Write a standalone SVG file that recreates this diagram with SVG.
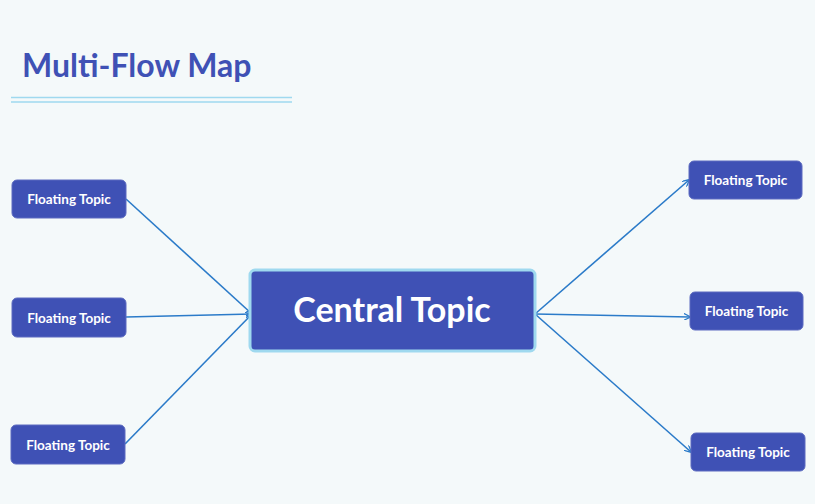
<svg xmlns="http://www.w3.org/2000/svg" width="815" height="504" viewBox="0 0 815 504">
<style>
.n{fill:#3f51b5;stroke:#5c6bc0;stroke-width:1}
.t{font-family:Lato,"Liberation Sans",sans-serif;font-weight:bold;fill:#fff;text-anchor:middle}
.c{stroke:#2b7bc9;stroke-width:1.6;fill:none;marker-end:url(#a)}
</style>
<defs><marker id="a" viewBox="0 0 10 10" refX="9" refY="5" markerWidth="7" markerHeight="7" orient="auto" markerUnits="userSpaceOnUse"><path d="M0,0 L10,5 L0,10" fill="none" stroke="#2b7bc9" stroke-width="1.8"/></marker></defs>
<rect width="815" height="504" fill="#f4f9fa"/>
<g id="title"><text x="22" y="77" font-family="Lato,'Liberation Sans',sans-serif" font-weight="bold" font-size="32" fill="#3f51b5">Multi-Flow Map</text>
<line x1="11" y1="97.5" x2="292" y2="97.5" stroke="#9fd9ef" stroke-width="1.5"/><line x1="11" y1="102" x2="292" y2="102" stroke="#9fd9ef" stroke-width="1.5"/></g>
<g id="connectors">
<path class="c" d="M126,199 L252,314"/>
<path class="c" d="M126,317 L252,314"/>
<path class="c" d="M125,444 L252,314"/>
<path class="c" d="M535,314 L689,180"/>
<path class="c" d="M535,314 L690,317"/>
<path class="c" d="M535,314 L691,452"/>
</g>
<g id="central"><rect x="250" y="270" width="285" height="81" rx="5" fill="#3f51b5" stroke="#9fd9ef" stroke-width="3"/><text class="t" x="392" y="322" font-size="34">Central Topic</text></g>
<g id="l1"><rect class="n" x="12" y="180" width="114" height="38" rx="5"/><text class="t" x="69" y="204" font-size="13.5">Floating Topic</text></g>
<g id="l2"><rect class="n" x="12" y="298" width="114" height="39" rx="5"/><text class="t" x="69" y="323" font-size="13.5">Floating Topic</text></g>
<g id="l3"><rect class="n" x="11" y="425" width="114" height="39" rx="5"/><text class="t" x="68" y="450" font-size="13.5">Floating Topic</text></g>
<g id="r1"><rect class="n" x="689" y="161" width="113" height="38" rx="5"/><text class="t" x="745.5" y="185" font-size="13.5">Floating Topic</text></g>
<g id="r2"><rect class="n" x="690" y="292" width="113" height="38" rx="5"/><text class="t" x="746.5" y="316" font-size="13.5">Floating Topic</text></g>
<g id="r3"><rect class="n" x="691" y="433" width="114" height="38" rx="5"/><text class="t" x="748" y="457" font-size="13.5">Floating Topic</text></g>
</svg>
